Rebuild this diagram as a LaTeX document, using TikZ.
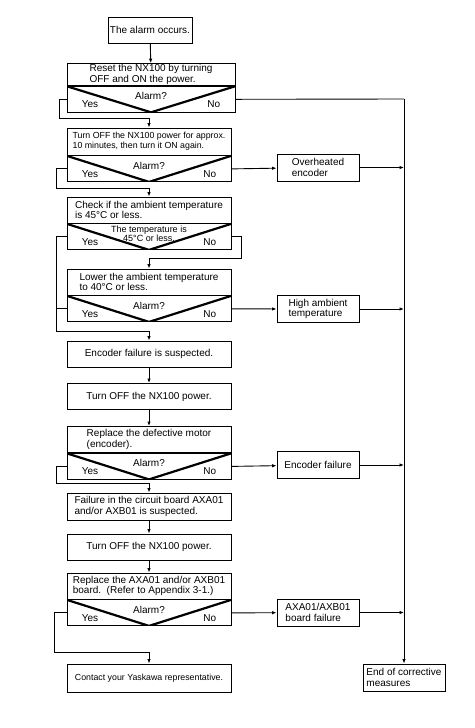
\documentclass[tikz,border=0pt]{standalone}
\usepackage{fontspec}
\setmainfont{Liberation Sans}
\usetikzlibrary{arrows.meta,
                positioning}

\begin{document}
\begin{tikzpicture}[x=1pt, y=-1pt,
font = \fontsize{10}{10.5}\selectfont,
   box/.style = {draw, line width=0.9pt, minimum width=164pt, minimum height=26pt,
                 align=left, inner sep=1pt},
 cause/.style = {box, minimum width=82pt, minimum height=27pt},
   dec/.style = {draw, line width=0.9pt, minimum width=164pt, minimum height=26pt,
                 inner sep=0pt, below=0pt of #1,
                 path picture={\draw[line width=2.2pt]
                    (path picture bounding box.north west) -- (path picture bounding box.south)
                 -- (path picture bounding box.north east);}},
   yes/.style = {anchor=base west, xshift=15pt, yshift=5pt, inner sep=0pt},
    no/.style = {anchor=base east, xshift=-15pt, yshift=5pt, inner sep=0pt},
   ask/.style = {anchor=base, yshift=13pt, inner sep=0pt},
  link/.style = {draw, line width=0.9pt},
   arr/.style = {link, -{Latex[length=4.5pt,width=3.5pt]}}
                    ]
\useasboundingbox (0,0) rectangle (474,728);

% main column
\node[box, minimum width=84pt] (alarm) at (150,30) {The alarm occurs.};
\node[box, minimum width=168pt, minimum height=21pt] (reset) at (151,74.5)
    {Reset the NX100 by turning\\OFF and ON the power.};
\node[dec=reset, minimum width=168pt] (reset-d) {};
\node[box, minimum height=27pt, font=\fontsize{8.8}{10}\selectfont] (wait) at (149,141.5)
    {Turn OFF the NX100 power for approx.\\10 minutes, then turn it ON again.};
\node[dec=wait] (wait-d) {};
\node[box] (check) at (149,210) {Check if the ambient temperature\\is 45°C or less.};
\node[dec=check] (check-d) {};
\node[box] (lower) at (149,282) {Lower the ambient temperature\\to 40°C or less.};
\node[dec=lower] (lower-d) {};
\node[box] (encsus) at (149,354) {Encoder failure is suspected.};
\node[box] (off2) at (149,396.5) {Turn OFF the NX100 power.};
\node[box] (motor) at (149,439.5) {Replace the defective motor\\(encoder).};
\node[dec=motor] (motor-d) {};
\node[box, minimum height=27pt] (board) at (149,506.5)
    {Failure in the circuit board AXA01\\and/or AXB01 is suspected.};
\node[box] (off3) at (149,547) {Turn OFF the NX100 power.};
\node[box] (axa) at (149,586) {Replace the AXA01 and/or AXB01\\board.\ \ (Refer to Appendix 3-1.)};
\node[dec=axa] (axa-d) {};
\node[box, minimum height=28pt, font=\fontsize{8.8}{10}\selectfont] (contact) at (149,678)
    {Contact your Yaskawa representative.};

% results
\node[cause] (hot)  at (318,167.5) {Overheated\\encoder};
\node[cause] (amb)  at (318,309)   {High ambient\\temperature};
\node[cause] (encf) at (318,465)   {Encoder failure};
\node[cause] (axaf) at (318,612.5) {AXA01/AXB01\\board failure};
\node[cause] (done) at (404,677.5) {End of corrective\\measures};

% decision labels
\foreach \d in {reset-d,wait-d,lower-d,motor-d,axa-d}
{
\node[yes] at (\d.south west) {Yes};
\node[no]  at (\d.south east) {No};
\node[ask] at (\d.south) {Alarm?};
}
\node[yes] at (check-d.south west) {Yes};
\node[no]  at (check-d.south east) {No};
\node[align=center, inner sep=0pt, yshift=3.5pt, font=\fontsize{9}{9}\selectfont]
    at (check-d.center) {The temperature is\\45°C or less.};

% connectors
\coordinate (rail) at (404,99);
\draw[link] (reset-d.east) -- (rail);
\draw[arr]  (rail) -- (done);
\draw[arr]  (alarm) -- (reset);
\draw[arr]  (reset-d.west) -- +(-7,0) |- ([yshift=9pt]wait.north) -- (wait.north);
\draw[arr]  (wait-d.west) -- +(-10,0) |- ([yshift=8pt]check.north) -- (check.north);
\draw[arr]  (wait-d.east) -- (hot);
\draw[arr]  (check-d.west) -- +(-10,0) |- ([yshift=9pt]encsus.north) -- (encsus.north);
\draw[arr]  (check-d.east) -- +(10,0) |- ([yshift=10pt]lower.north) -- (lower.north);
\draw[link] (lower-d.west) -- +(-10,0);
\draw[arr]  (lower-d.east) -- (amb);
\draw[arr]  (encsus) -- (off2);
\draw[arr]  (off2) -- (motor);
\draw[arr]  (motor-d.west) -- +(-10,0) |- ([yshift=9pt]board.north) -- (board.north);
\draw[arr]  (motor-d.east) -- (encf);
\draw[arr]  (board) -- (off3);
\draw[arr]  (off3) -- (axa);
\draw[arr]  (axa-d.west) -- +(-12,0) |- ([yshift=11pt]contact.north) -- (contact.north);
\draw[arr]  (axa-d.east) -- (axaf);
\foreach \c in {hot,amb,encf,axaf}
    \draw[arr] (\c) -- (\c -| rail);
\end{tikzpicture}
\end{document}
